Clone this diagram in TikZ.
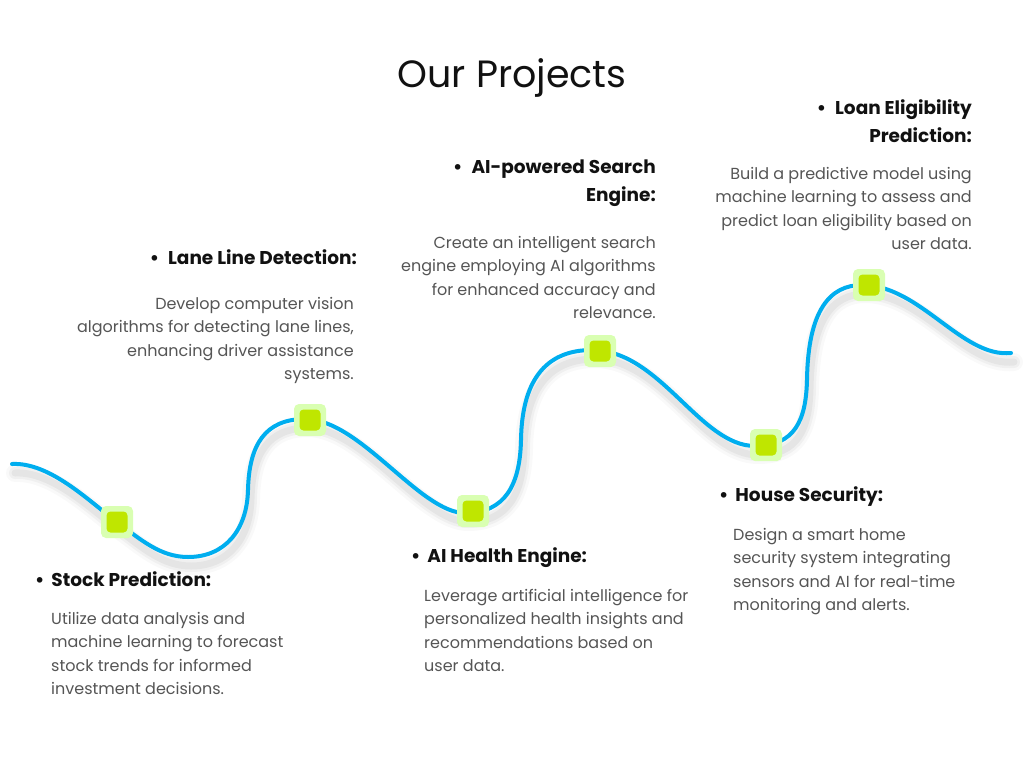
\documentclass[tikz,border=0pt]{standalone}
\usepackage{fontspec}
\setmainfont{Poppins}
\usetikzlibrary{positioning,calc}
\definecolor{WaveBlue}{HTML}{00AEEF}
\definecolor{MarkLight}{HTML}{D9FFB2}
\definecolor{MarkLime}{HTML}{BFE600}
\definecolor{BodyGray}{HTML}{555555}
\definecolor{HeadBlack}{HTML}{111111}

% the wavy timeline, drawn once for the shadow and once in blue
\newcommand{\wavecurve}[1]{%
  \draw[#1] (12,464) .. controls (50,462) and (90,502) .. (117,522)
    .. controls (140,539) and (160,557) .. (188,557)
    .. controls (225,557) and (247,530) .. (248,490)
    .. controls (249,445) and (265,419) .. (305,419)
    .. controls (360,419) and (420,513) .. (465,513)
    .. controls (505,513) and (520,485) .. (521,440)
    .. controls (522,375) and (550,350) .. (592,350)
    .. controls (660,350) and (700,446) .. (755,446)
    .. controls (795,446) and (806,420) .. (807,380)
    .. controls (808,310) and (830,285) .. (862,285)
    .. controls (920,285) and (962,358) .. (1011,353);}

\begin{document}
\begin{tikzpicture}[x=1pt,y=-1pt,
    wave/.style={WaveBlue,line width=4pt,line cap=round},
    markout/.style={fill=MarkLight,rounded corners=5pt,minimum size=32pt,inner sep=0pt},
    markin/.style={fill=MarkLime,rounded corners=4pt,minimum size=21pt,inner sep=0pt},
    head/.style={font=\fontsize{18.5}{28}\selectfont\bfseries,text=HeadBlack,inner sep=0pt},
    desc/.style={font=\fontsize{16}{23.3}\selectfont,text=BodyGray,inner sep=0pt}
  ]
  \useasboundingbox[fill=white] (0,0) rectangle (1024,763);

  \node[font=\fontsize{38}{40}\selectfont,text=HeadBlack,anchor=base,inner sep=0pt] (title) at (512,87) {Our Projects};

  % shadow under the curve
  \foreach \w/\o in {18/0.025,12/0.035,7/0.045} {
    \wavecurve{black,opacity=\o,line width=\w pt,line cap=round,shift={(3,9)}}
  }
  \wavecurve{wave}

  % markers on the curve
  \foreach \n/\x/\y in {1/117/522,2/310/420,3/473/511,4/600/351,5/766/445,6/869/285} {
    \node[markout] (m\n) at (\x,\y) {};
    \node[markin] (k\n) at (m\n) {};
  }

  % lower labels (base = last line)
  \node[head,anchor=base west] (stockhead) at (35,586) {\textbullet\hspace{7pt}Stock Prediction:};
  \node[desc,align=left,anchor=base west] (stockdesc) at (51,694.5)
    {Utilize data analysis and\\machine learning to forecast\\stock trends for informed\\investment decisions.};

  \node[head,anchor=base west] (healthhead) at (411,562) {\textbullet\hspace{7pt}AI Health Engine:};
  \node[desc,align=left,anchor=base west] (healthdesc) at (424,671.5)
    {Leverage artificial intelligence for\\personalized health insights and\\recommendations based on\\user data.};

  \node[head,anchor=base west] (househead) at (719,501) {\textbullet\hspace{7pt}House Security:};
  \node[desc,align=left,anchor=base west] (housedesc) at (733,610.5)
    {Design a smart home\\security system integrating\\sensors and AI for real-time\\monitoring and alerts.};

  % upper labels
  \node[head,anchor=base east] (lanehead) at (357,264) {\textbullet\hspace{9pt}Lane Line Detection:};
  \node[desc,align=right,anchor=base east] (lanedesc) at (354,379.5)
    {Develop computer vision\\algorithms for detecting lane lines,\\enhancing driver assistance\\systems.};

  \node[head,align=right,anchor=base east] (searchhead) at (656,201) {\textbullet\hspace{9pt}AI-powered Search\\Engine:};
  \node[desc,align=right,anchor=base east] (searchdesc) at (656,318.5)
    {Create an intelligent search\\engine employing AI algorithms\\for enhanced accuracy and\\relevance.};

  \node[head,align=right,anchor=base east] (loanhead) at (972,142) {\textbullet\hspace{9pt}Loan Eligibility\\Prediction:};
  \node[desc,align=right,anchor=base east] (loandesc) at (972,249.5)
    {Build a predictive model using\\machine learning to assess and\\predict loan eligibility based on\\user data.};
\end{tikzpicture}
\end{document}
